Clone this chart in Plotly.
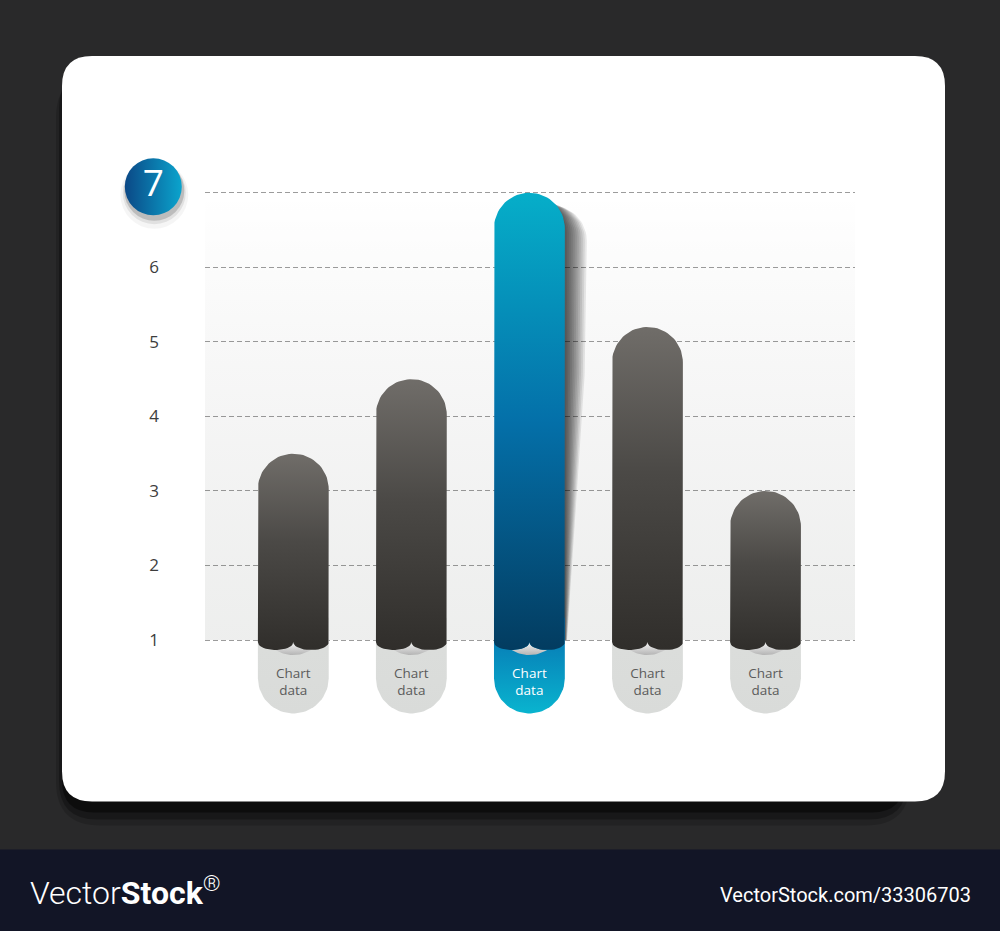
import numpy as np
import plotly.graph_objects as go

# --- chart data ---
categories = ["Chart<br>data"] * 5
values = [3.5, 4.5, 7.0, 5.2, 3.0]
highlight = 2
tick_vals = [1, 2, 3, 4, 5, 6, 7]
tick_text = ["1", "2", "3", "4", "5", "6"]
top_label = "7"
axis_base = 1

# --- page geometry (px) ---
W, H = 1000, 931
ML, MR, MT, MB = 100, 145, 148, 193.5
GRID_LEFT = 205
X_RANGE = [-0.748, 4.758]
Y_RANGE = [-0.3, 7.6]
area_w = W - ML - MR
plot_w = W - GRID_LEFT - MR
plot_h = H - MT - MB
ppx = plot_w / (X_RANGE[1] - X_RANGE[0])   # px per x unit
ppy = plot_h / (Y_RANGE[1] - Y_RANGE[0])   # px per y unit
split = (GRID_LEFT - ML) / area_w

BAR_W = 0.6
hw = BAR_W / 2
ry = hw * ppx / ppy          # round cap radius in y units
pill_depth = 73.5 / ppy      # label pill under the axis base

GRAY_BAR = [[0, "#302e2b"], [0.55, "#4b4946"], [1, "#706d69"]]
BLUE_BAR = [[0, "#033c60"], [0.5, "#0470a9"], [1, "#06aec9"]]
GRAY_PILL = [[0, "#d9dbd9"], [1, "#dcdedc"]]
BLUE_PILL = [[0, "#09b4cf"], [1, "#066fb0"]]
CURL = [[0, "#b4b4b4"], [0.5, "#d4d4d4"], [1, "#f8f8f8"]]
NOLINE = dict(width=0, color="rgba(0,0,0,0)")
GRID = dict(showgrid=True, gridcolor="#9c9c9c", gridwidth=1, griddash="5px,3px")


def px_x(p):
    return (p - ML) / area_w


def px_y(p):
    return 1 - (p - MT) / plot_h


def round_rect(x0, y0, x1, y1, r):
    # rounded rectangle path in paper coords from pixel box
    ax0, ax1 = px_x(x0), px_x(x1)
    ay0, ay1 = px_y(y0), px_y(y1)
    rx = r / area_w
    rr = r / plot_h
    return (f"M{ax0 + rx},{ay0} L{ax1 - rx},{ay0} Q{ax1},{ay0} {ax1},{ay0 - rr} "
            f"L{ax1},{ay1 + rr} Q{ax1},{ay1} {ax1 - rx},{ay1} L{ax0 + rx},{ay1} "
            f"Q{ax0},{ay1} {ax0},{ay1 + rr} L{ax0},{ay0 - rr} Q{ax0},{ay0} {ax0 + rx},{ay0} Z")


def bar_outline(xc, top):
    yb = axis_base - 2 / ppy
    d = 8 / ppy
    t = np.linspace(np.pi, 0, 40)
    xs = [xc - hw] + list(xc + hw * np.cos(t)) + [xc + hw]
    ys = [yb] + list(top - ry + ry * np.sin(t)) + [yb]
    s = np.linspace(0, np.pi, 20)
    xs += list(xc + hw / 2 + hw / 2 * np.cos(s)) + list(xc - hw / 2 + hw / 2 * np.cos(s))
    ys += list(yb - d * np.sin(s)) * 2
    return xs, ys


def pill_outline(xc):
    top = axis_base + 0.3
    bot = axis_base - pill_depth
    t = np.linspace(np.pi, 2 * np.pi, 40)
    xs = [xc + hw, xc - hw] + list(xc + hw * np.cos(t)) + [xc + hw]
    ys = [top, top] + list(bot + ry + ry * np.sin(t)) + [top]
    return xs, ys


def curl_outline(xc):
    yb = axis_base - 2 / ppy
    d = 8 / ppy
    e = 5 / ppy
    s = np.linspace(0, np.pi / 2, 12)
    xs = list(xc - hw / 2 + hw / 2 * np.cos(s))[::-1]
    ys = list(yb - d * np.sin(s))[::-1]
    s2 = np.linspace(np.pi, np.pi / 2, 12)
    xs += list(xc + hw / 2 + hw / 2 * np.cos(s2))
    ys += list(yb - d * np.sin(s2))
    u = np.linspace(1, -1, 20)
    xs += list(xc + u * hw / 2)
    ys += list(yb - d - e * (1 - u ** 2))
    return xs, ys


def shadow_outline(xc, top, shift):
    # bar cap pushed right/down, tapering back to the bar edge at the base
    dx = shift / ppx
    dy = (4 + shift * 0.4) / ppy
    t = np.linspace(np.pi / 2, 0, 20)
    xs = [xc] + list(xc + dx + hw * np.cos(t))
    ys = [top - ry - dy] + list(top - ry - dy + ry * np.sin(t))
    mid = top - ry - dy - (top - axis_base) * 0.3
    xs += [xc + hw + dx * 0.9, xc + hw + dx * 0.1, xc]
    ys += [mid, axis_base, axis_base]
    return xs, ys


fig = go.Figure()

# light gradient behind the grid area
fig.add_trace(go.Scatter(
    x=[X_RANGE[0], X_RANGE[1], X_RANGE[1], X_RANGE[0]],
    y=[axis_base, axis_base, tick_vals[-1], tick_vals[-1]],
    fill="toself", mode="lines", line=NOLINE,
    fillgradient=dict(type="vertical",
                      colorscale=[[0, "rgba(60,70,60,0.09)"], [1, "rgba(0,0,0,0)"]]),
    hoverinfo="skip", showlegend=False))

# soft shadow on the right of the highlighted bar
for shift in range(22, 0, -2):
    sx, sy = shadow_outline(highlight, values[highlight], shift)
    fig.add_trace(go.Scatter(
        x=sx, y=sy, fill="toself", mode="lines", line=NOLINE,
        fillcolor="rgba(0,0,0,0.085)", hoverinfo="skip", showlegend=False))

for i, v in enumerate(values):
    hi = i == highlight
    px_, py_ = pill_outline(i)
    fig.add_trace(go.Scatter(
        x=px_, y=py_, fill="toself", mode="lines", line=NOLINE,
        fillgradient=dict(type="vertical", colorscale=BLUE_PILL if hi else GRAY_PILL),
        hoverinfo="skip", showlegend=False))
    cx, cy = curl_outline(i)
    fig.add_trace(go.Scatter(
        x=cx, y=cy, fill="toself", mode="lines", line=NOLINE,
        fillgradient=dict(type="vertical", colorscale=CURL),
        hoverinfo="skip", showlegend=False))
    bx, by = bar_outline(i, v)
    fig.add_trace(go.Scatter(
        x=bx, y=by, fill="toself", mode="lines", line=NOLINE,
        fillgradient=dict(type="vertical", colorscale=BLUE_BAR if hi else GRAY_BAR),
        hoverinfo="skip", showlegend=False))

# labels inside the pills
fig.add_trace(go.Scatter(
    x=list(range(len(values))), y=[axis_base - 43 / ppy] * len(values),
    mode="text", text=categories,
    textfont=dict(family="Open Sans", size=13.5,
                  color=["#ffffff" if i == highlight else "#5b5b5b" for i in range(len(values))]),
    hoverinfo="skip", showlegend=False))

# blue badge for the top tick (own little subplot left of the grid)
bx0 = 153.3
by0 = tick_vals[-1] + 6 / ppy
for size, alpha, dx, dy in [(68, 0.04, 1, 8), (63, 0.08, 1, 6), (60, 0.16, 1, 4)]:
    fig.add_trace(go.Scatter(
        x=[bx0 + dx], y=[by0 - dy / ppy], mode="markers", xaxis="x2", yaxis="y2",
        marker=dict(size=size, color=f"rgba(0,0,0,{alpha})", line=dict(width=0)),
        hoverinfo="skip", showlegend=False))
fig.add_trace(go.Scatter(
    x=[bx0], y=[by0], mode="markers+text", xaxis="x2", yaxis="y2",
    text=[top_label], textposition="middle center",
    textfont=dict(family="Open Sans", size=37, color="white"),
    marker=dict(size=57, color="#0b4886", line=dict(width=0),
                gradient=dict(type="horizontal", color="#0ba4cd")),
    hoverinfo="skip", showlegend=False))

shapes = [
    # card shadow
    dict(type="path", path=round_rect(56, 74, 910, 826, 44), xref="paper", yref="paper",
         fillcolor="rgba(0,0,0,0.16)", line=dict(width=0), layer="below"),
    dict(type="path", path=round_rect(59, 70, 907, 820, 38), xref="paper", yref="paper",
         fillcolor="rgba(0,0,0,0.28)", line=dict(width=0), layer="below"),
    dict(type="path", path=round_rect(62, 66, 904, 813, 32), xref="paper", yref="paper",
         fillcolor="rgba(0,0,0,0.45)", line=dict(width=0), layer="below"),
    # card
    dict(type="path", path=round_rect(62, 56, 945, 802, 30), xref="paper", yref="paper",
         fillcolor="#ffffff", line=dict(width=0), layer="below"),
    # footer band
    dict(type="rect", x0=px_x(-5), x1=px_x(W + 5), y0=px_y(850), y1=px_y(H + 5),
         xref="paper", yref="paper", fillcolor="#121526", line=dict(width=0), layer="below"),
]

annotations = [
    dict(text="Vector<b>Stock</b><sup>®</sup>", x=px_x(28), y=px_y(892),
         xref="paper", yref="paper", xanchor="left", yanchor="middle", showarrow=False,
         font=dict(family="Roboto", size=32, color="white", weight=300)),
    dict(text="VectorStock.com/33306703", x=px_x(973), y=px_y(896),
         xref="paper", yref="paper", xanchor="right", yanchor="middle", showarrow=False,
         font=dict(family="Roboto", size=20, color="white")),
]

fig.update_layout(
    width=W, height=H,
    margin=dict(l=ML, r=MR, t=MT, b=MB, pad=0),
    paper_bgcolor="#29292a", plot_bgcolor="rgba(0,0,0,0)",
    shapes=shapes, annotations=annotations,
    xaxis=dict(range=X_RANGE, domain=[split, 1], visible=False, fixedrange=True),
    yaxis=dict(range=Y_RANGE, anchor="x", tickvals=tick_vals[:-1], ticktext=tick_text,
               zeroline=False, showline=False, ticks="", ticklabelstandoff=45,
               tickfont=dict(family="Open Sans", size=17, color="#3d3d3d"),
               minor=dict(tickvals=tick_vals[-1:], ticks="", **GRID),
               fixedrange=True, **GRID),
    xaxis2=dict(range=[ML, GRID_LEFT], domain=[0, split], anchor="y2",
                visible=False, fixedrange=True),
    yaxis2=dict(range=Y_RANGE, anchor="x2", visible=False, fixedrange=True),
    showlegend=False,
)

fig.write_html("out.html", config={"displayModeBar": False},
               post_script="document.body.style.margin='0';document.body.style.overflow='hidden';")
